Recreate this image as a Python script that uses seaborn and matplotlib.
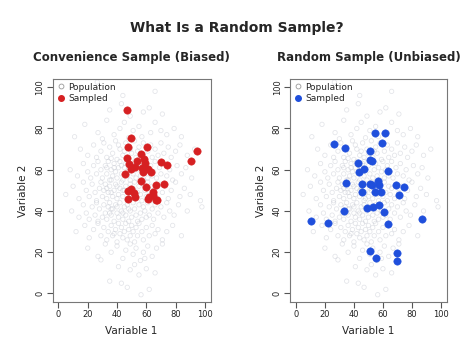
import pandas as pd
import seaborn as sns
from matplotlib import pyplot as plt
from matplotlib.lines import Line2D

# Population points (x, y) (same cloud in both panels)
population = [
    (26.5, 102.5), (66, 98), (44, 96),
    (43, 92), (58, 88), (49, 86), (35, 89), (62, 90), (71, 87),
    (11, 76), (18, 82), (27, 78), (33, 84), (38, 77), (42, 80), (45, 83), (51, 79), (55, 81),
    (57, 76), (63, 78), (66, 83), (70, 79), (74, 77), (79, 80), (84, 76), (48, 75.5), (30, 75),
    (15, 70), (20, 67), (24, 72), (26, 66), (29, 69), (31, 73), (33, 66), (35, 71), (37, 68),
    (39, 74), (40, 65), (42, 70), (44, 67), (46, 73), (47, 66), (49, 70), (50, 68), (52, 74),
    (53, 66), (55, 71), (56, 68), (58, 73), (59, 65), (61, 69), (63, 72), (64, 66), (66, 70),
    (68, 67), (70, 73), (72, 68), (75, 71), (77, 66), (80, 69), (83, 72), (88, 67), (93, 70),
    (36, 65.5), (45, 69), (54, 69), (41, 72),
    (8, 60), (13, 57), (17, 63), (20, 59), (22, 56), (24, 62), (26, 58), (27, 64), (29, 60),
    (30, 56), (32, 62), (33, 58), (34, 64), (35, 55), (36, 60), (37, 57), (38, 63), (39, 59),
    (40, 56), (41, 61), (42, 64), (43, 58), (44, 55), (45, 61), (46, 63), (47, 57), (48, 60),
    (49, 55), (50, 62), (51, 58), (52, 64), (53, 56), (54, 60), (55, 63), (56, 57), (57, 61),
    (58, 55), (59, 59), (60, 64), (61, 56), (62, 60), (63, 62), (64, 57), (65, 59), (66, 64),
    (67, 56), (69, 61), (70, 58), (72, 63), (74, 57), (76, 60), (78, 55), (81, 62), (84, 58),
    (87, 61), (91, 56), (38, 61), (43, 62), (47, 64), (33, 61),
    (5, 48), (10, 52), (14, 46), (17, 54), (19, 50), (21, 47), (23, 53), (25, 49), (26, 45),
    (28, 51), (29, 54), (30, 47), (31, 50), (32, 53), (33, 46), (34, 49), (35, 52), (36, 55),
    (37, 47), (38, 50), (39, 53), (40, 46), (41, 48), (42, 51), (43, 54), (44, 47), (45, 50),
    (46, 52), (47, 45), (48, 49), (49, 53), (50, 47), (51, 51), (52, 54), (53, 46), (54, 49),
    (55, 52), (56, 48), (57, 45), (58, 53), (59, 50), (60, 47), (61, 54), (62, 49), (63, 45),
    (64, 52), (65, 48), (66, 51), (68, 46), (69, 53), (71, 49), (73, 52), (75, 46), (77, 50),
    (80, 54), (83, 47), (86, 51), (90, 48), (97, 45), (36, 49), (40, 52), (44, 50), (48, 46),
    (52, 50), (33, 51),
    (9, 40), (14, 37), (17, 43), (19, 39), (21, 36), (23, 42), (25, 38), (26, 44), (27, 35),
    (28, 41), (30, 37), (31, 43), (32, 39), (33, 36), (34, 42), (35, 44), (36, 38), (37, 41),
    (38, 35), (39, 43), (40, 39), (41, 37), (42, 44), (43, 40), (44, 36), (45, 42), (46, 38),
    (47, 43), (48, 35), (49, 40), (50, 37), (51, 44), (52, 41), (53, 38), (54, 35), (55, 43),
    (56, 39), (57, 36), (58, 42), (59, 40), (60, 37), (61, 44), (62, 38), (64, 41), (65, 36),
    (66, 43), (68, 39), (70, 42), (72, 37), (74, 44), (76, 40), (79, 38), (82, 43), (88, 40),
    (98, 42), (36, 41), (40, 42), (44, 39), (48, 41), (35, 39),
    (12, 30), (18, 33), (21, 27), (24, 31), (27, 34), (29, 28), (31, 32), (33, 26), (34, 30),
    (36, 33), (37, 28), (39, 31), (40, 25), (41, 34), (42, 29), (43, 32), (44, 27), (45, 30),
    (46, 34), (47, 26), (48, 31), (49, 28), (50, 33), (51, 30), (52, 25), (53, 32), (54, 28),
    (55, 34), (57, 30), (58, 26), (60, 32), (62, 28), (64, 33), (66, 29), (68, 31), (71, 26),
    (74, 30), (78, 33), (84, 28), (38, 29),
    (20, 22), (27, 18), (32, 24), (36, 20), (40, 23), (44, 17), (46, 21), (49, 24), (51, 19),
    (53, 22), (56, 16), (58, 20), (61, 23), (64, 18), (67, 22), (71, 24), (59, 17), (29, 16.3),
    (35, 6), (43, 5), (49, 11.5), (41, 13), (55, 9), (60, 12), (52, 14), (66, 10),
    (56.4, -0.6), (47, 3), (62, 2),
]

# Convenience sample (biased): clustered upper-centre
convenience_sample = [
    (46.6, 89.1), (49.3, 75.2), (47.3, 71.1), (60.4, 70.8), (56.4, 67.7), (46.6, 65.6),
    (58.7, 65.4), (53.7, 64.3), (48.2, 62.7), (59.0, 63.5), (70.0, 63.8), (74.1, 62.3),
    (52.3, 61.3), (49.8, 60.2), (57.3, 60.7), (61.0, 60.2), (63.1, 58.9), (57.8, 58.9),
    (45.2, 57.8), (90.6, 64.0), (94.5, 69.1), (56.2, 54.5), (72.1, 52.9), (66.3, 52.4),
    (59.9, 51.5), (49.6, 50.5), (47.5, 49.5), (51.6, 48.7), (64.7, 49.4), (52.5, 46.9),
    (61.7, 46.9), (64.9, 47.6), (61.3, 45.9), (67.2, 45.1), (47.3, 45.6), (66.5, 45.5),
]

# Random sample (unbiased): spread over the whole cloud
random_sample = [
    (26.2, 72.4), (34.0, 70.3), (54.7, 77.6), (61.7, 77.7), (59.3, 73.0), (51.0, 69.1),
    (51.3, 64.5), (52.2, 64.3), (42.6, 63.5), (47.0, 60.6), (43.5, 58.9), (63.6, 59.4),
    (34.4, 53.7), (45.8, 53.3), (50.8, 52.9), (52.6, 52.4), (56.7, 54.4), (57.2, 52.8),
    (68.8, 52.4), (74.5, 51.8), (45.3, 49.2), (54.7, 49.4), (58.8, 49.4), (70.9, 47.9),
    (57.6, 43.0), (53.3, 42.1), (49.0, 41.4), (33.0, 40.1), (60.4, 39.6), (63.8, 33.9),
    (86.6, 36.2), (10.3, 35.2), (22.1, 34.4), (51.0, 20.5), (69.7, 19.7), (55.4, 17.1),
    (69.5, 15.8),
]

panel_titles = ["Convenience Sample (Biased)", "Random Sample (Unbiased)"]
sample_colors = ["#d62022", "#1f4fdc"]
ticks = [0, 20, 40, 60, 80, 100]

pop_df = pd.DataFrame(population, columns=["x", "y"])

sns.set_style("white")
plt.rcParams['font.family'] = ['DejaVu Sans']

fig = plt.figure(figsize=(4.74, 3.55), dpi=100)
axes = [fig.add_axes([0.111, 0.150, 0.3335, 0.6275]),
        fig.add_axes([0.612, 0.150, 0.3305, 0.6275])]

fig.text(0.5, 1 - 28 / 355, "What Is a Random Sample?", ha="center", va="center",
         fontsize=10, fontweight="bold")

for ax, sample, title, color in zip(axes, [convenience_sample, random_sample],
                                    panel_titles, sample_colors):
    sample_df = pd.DataFrame(sample, columns=["x", "y"])
    # faint hollow population cloud
    sns.scatterplot(data=pop_df, x="x", y="y", ax=ax, s=10, facecolor="none",
                    edgecolor="#b4b8c4", linewidth=0.55, alpha=0.38)
    sns.scatterplot(data=sample_df, x="x", y="y", ax=ax, s=28, color=color,
                    edgecolor=color, linewidth=0.4)

    ax.set_xlim(-4, 104)
    ax.set_ylim(-4, 104)
    ax.set_xticks(ticks)
    ax.set_yticks(ticks)
    ax.tick_params(axis="both", direction="out", length=4, width=0.8, color="#555555",
                   labelsize=6, labelcolor="#222222", pad=2, bottom=True, left=True)
    for lab in ax.get_yticklabels():
        lab.set_rotation(90)
        lab.set_va("center")
    for sp in ax.spines.values():
        sp.set_color("#777777")
        sp.set_linewidth(0.8)
    ax.set_xlabel("Variable 1", fontsize=7.5, labelpad=5)
    ax.set_ylabel("Variable 2", fontsize=7.5, labelpad=5)
    ax.set_title(title, fontsize=8.5, fontweight="bold", pad=13)

    handles = [
        Line2D([], [], marker="o", linestyle="none", markersize=3.5,
               markerfacecolor="none", markeredgecolor="#999999", markeredgewidth=0.6),
        Line2D([], [], marker="o", linestyle="none", markersize=4,
               markerfacecolor=color, markeredgecolor=color),
    ]
    ax.legend(handles, ["Population", "Sampled"], loc="upper left", frameon=False,
              fontsize=6.5, handletextpad=0.3, borderaxespad=0.2, labelspacing=0.25,
              handlelength=1.0, borderpad=0.2)

fig.savefig("out.png", dpi=100)
